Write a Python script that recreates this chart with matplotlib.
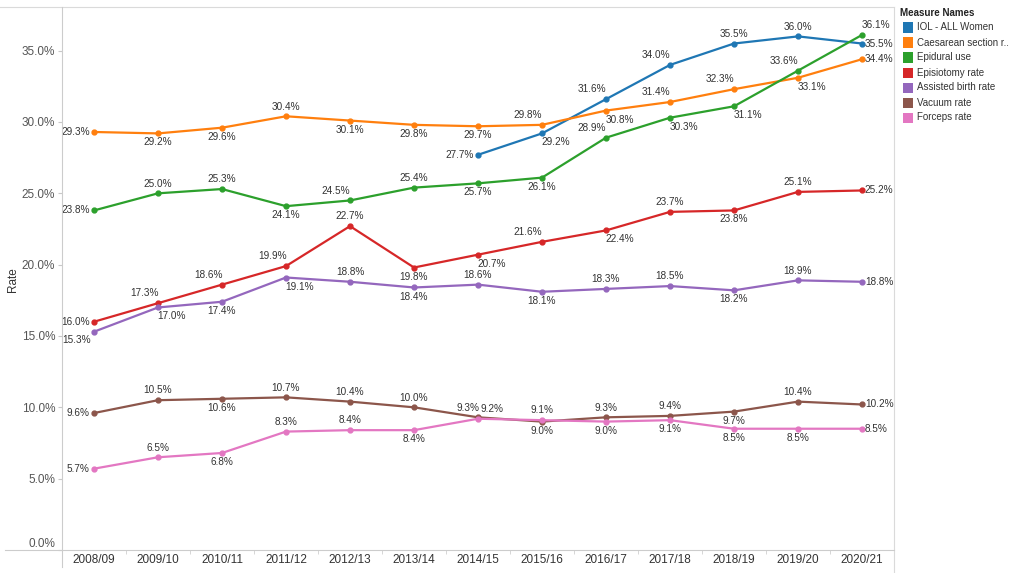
import matplotlib.pyplot as plt
from matplotlib.lines import Line2D
from matplotlib.patches import Rectangle
import numpy as np

plt.rcParams['font.family'] = ['Liberation Sans', 'DejaVu Sans']

years = ['2008/09', '2009/10', '2010/11', '2011/12', '2012/13', '2013/14', '2014/15',
         '2015/16', '2016/17', '2017/18', '2018/19', '2019/20', '2020/21']

names = ['IOL - ALL Women', 'Caesarean section r..', 'Epidural use', 'Episiotomy rate',
         'Assisted birth rate', 'Vacuum rate', 'Forceps rate']
colors = ['#1f77b4', '#ff7f0e', '#2ca02c', '#d62728', '#9467bd', '#8c564b', '#e377c2']

iol = [None, None, None, None, None, None, 27.7, 29.2, 31.6, 34.0, 35.5, 36.0, 35.5]
caesarean = [29.3, 29.2, 29.6, 30.4, 30.1, 29.8, 29.7, 29.8, 30.8, 31.4, 32.3, 33.1, 34.4]
epidural = [23.8, 25.0, 25.3, 24.1, 24.5, 25.4, 25.7, 26.1, 28.9, 30.3, 31.1, 33.6, 36.1]
episiotomy = [16.0, 17.3, 18.6, 19.9, 22.7, 19.8, 20.7, 21.6, 22.4, 23.7, 23.8, 25.1, 25.2]
assisted = [15.3, 17.0, 17.4, 19.1, 18.8, 18.4, 18.6, 18.1, 18.3, 18.5, 18.2, 18.9, 18.8]
vacuum = [9.6, 10.5, 10.6, 10.7, 10.4, 10.0, 9.3, 9.0, 9.3, 9.4, 9.7, 10.4, 10.2]
forceps = [5.7, 6.5, 6.8, 8.3, 8.4, 8.4, 9.2, 9.1, 9.0, 9.1, 8.5, 8.5, 8.5]

series = [iol, caesarean, epidural, episiotomy, assisted, vacuum, forceps]

# where each point label goes
places = [
    [None] * 6 + ['l', 'B', 'A', 'A', 'a', 'a', 'r'],
    ['l', 'b', 'b', 'a', 'b', 'b', 'b', 'A', 'B', 'A', 'A', 'B', 'r'],
    ['l', 'a', 'a', 'b', 'A', 'a', 'b', 'b', 'A', 'B', 'B', 'A', 'R'],
    ['l', 'A', 'A', 'A', 'a', 'b', 'B', 'A', 'B', 'a', 'b', 'a', 'r'],
    ['D', 'B', 'b', 'B', 'a', 'b', 'a', 'b', 'a', 'a', 'b', 'a', 'r'],
    ['l', 'a', 'b', 'a', 'a', 'a', 'L', 'b', 'a', 'a', 'b', 'a', 'r'],
    ['l', 'a', 'b', 'a', 'a', 'b', 'R', 'a', 'b', 'b', 'b', 'b', 'r'],
]
offsets = {
    'a': (0, 7, 'center'), 'b': (0, -6.5, 'center'),
    'A': (-10, 7, 'center'), 'B': (10, -6.5, 'center'),
    'R': (10, 7, 'center'), 'L': (1, 7, 'right'),
    'l': (-3, 0, 'right'), 'r': (2, 0, 'left'), 'D': (-2, -6, 'right'),
}

W, H = 1024, 573
fig = plt.figure(figsize=(W / 100, H / 100), dpi=100)
ax = fig.add_axes([62 / W, 1 - 550 / H, (894 - 62) / W, (550 - 7) / H])
ax.set_xlim(-0.5, 12.5)
ax.set_ylim(0, 38.06)
for s in ax.spines.values():
    s.set_visible(False)

x = np.arange(len(years))
for vals, col, pl in zip(series, colors, places):
    y = np.array([np.nan if v is None else v for v in vals])
    ax.plot(x, y, color=col, lw=1.6, marker='o', ms=3.5, zorder=3)
    for i, v in enumerate(vals):
        if v is None:
            continue
        dx, dy, ha = offsets[pl[i]]
        ax.annotate(f'{v:.1f}%', (i, v), xytext=(dx, dy), textcoords='offset points',
                    ha=ha, va='center', fontsize=7.2, color='#333333', zorder=4)

ax.set_yticks(range(0, 40, 5))
ax.set_yticklabels([f'{v:.1f}%' for v in range(0, 40, 5)])
ax.yaxis.get_major_ticks()[0].label1.set_va('bottom')
ax.tick_params(axis='y', length=3, color='#c8c8c8', labelsize=8.5, labelcolor='#555555', pad=2)
ax.set_xticks(x)
ax.set_xticklabels(years)
ax.set_xticks(x[:-1] + 0.5, minor=True)
ax.tick_params(axis='x', which='major', length=0, labelsize=8.5, labelcolor='#333333', pad=3)
ax.tick_params(axis='x', which='minor', length=3, color='#d0d0d0')

fig.text(13 / W, 1 - 280 / H, 'Rate', rotation=90, ha='center', va='center',
         fontsize=8.5, color='#333333')


def pline(x0, y0, x1, y1, col):
    fig.add_artist(Line2D([x0 / W, x1 / W], [1 - y0 / H, 1 - y1 / H],
                          transform=fig.transFigure, color=col, lw=0.8))


pline(0, 7, 894, 7, '#dadada')
pline(894, 7, 894, 573, '#dadada')
pline(62, 7, 62, 567, '#cccccc')
pline(5, 550, 894, 550, '#cccccc')

# legend
fig.text(900 / W, 1 - 13.5 / H, 'Measure Names', fontsize=7, fontweight='bold',
         va='center', ha='left', color='#222222')
for k, (n, c) in enumerate(zip(names, colors)):
    yc = 27.5 + 15 * k
    fig.add_artist(Rectangle((903 / W, 1 - (yc + 5) / H), 10 / W, 10 / H,
                             transform=fig.transFigure, facecolor=c, edgecolor='none'))
    fig.text(917 / W, 1 - yc / H, n, fontsize=7, va='center', ha='left', color='#333333')

plt.savefig('out.png', dpi=100)
